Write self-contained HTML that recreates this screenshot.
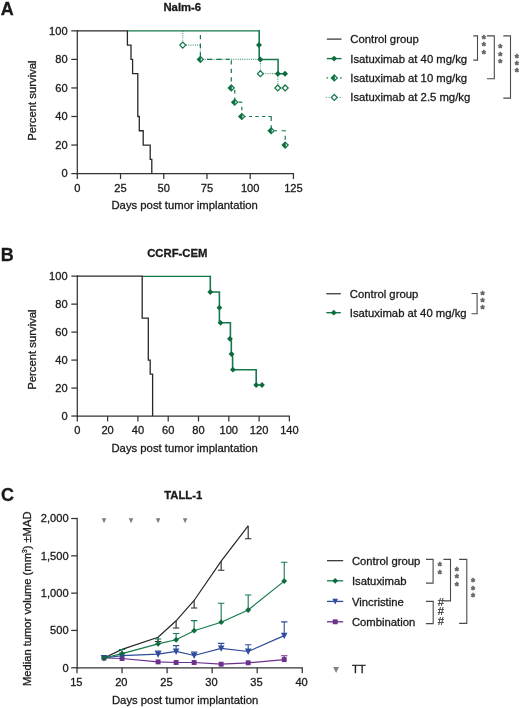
<!DOCTYPE html>
<html lang="en">
<head>
<meta charset="utf-8">
<title>Figure</title>
<style>
html,body{margin:0;padding:0;background:#fff;}
body{width:520px;height:708px;overflow:hidden;}
svg{display:block;font-family:"Liberation Sans",Arial,Helvetica,sans-serif;}
</style>
</head>
<body>
<svg width="520" height="708" viewBox="0 0 520 708">
<rect width="520" height="708" fill="#fff"/>
<text x="0.8" y="14.8" font-size="18" text-anchor="start" font-weight="bold" fill="#1a1a1a" stroke="#1a1a1a" stroke-width="0.3" >A</text>
<text x="182.3" y="10.7" font-size="11.3" text-anchor="middle" font-weight="bold" fill="#1c1a1b" stroke="#1c1a1b" stroke-width="0.3" >Nalm-6</text>
<line x1="77.30" y1="30.05" x2="77.30" y2="174.15" stroke="#333333" stroke-width="1.25" />
<line x1="76.75" y1="173.60" x2="293.98" y2="173.60" stroke="#333333" stroke-width="1.25" />
<line x1="77.30" y1="173.60" x2="77.30" y2="179.00" stroke="#333333" stroke-width="1.25" />
<text x="77.3" y="191.5" font-size="11.1" text-anchor="middle" font-weight="normal" fill="#1c1a1b" stroke="#1c1a1b" stroke-width="0.3" >0</text>
<line x1="120.53" y1="173.60" x2="120.53" y2="179.00" stroke="#333333" stroke-width="1.25" />
<text x="120.525" y="191.5" font-size="11.1" text-anchor="middle" font-weight="normal" fill="#1c1a1b" stroke="#1c1a1b" stroke-width="0.3" >25</text>
<line x1="163.75" y1="173.60" x2="163.75" y2="179.00" stroke="#333333" stroke-width="1.25" />
<text x="163.75" y="191.5" font-size="11.1" text-anchor="middle" font-weight="normal" fill="#1c1a1b" stroke="#1c1a1b" stroke-width="0.3" >50</text>
<line x1="206.98" y1="173.60" x2="206.98" y2="179.00" stroke="#333333" stroke-width="1.25" />
<text x="206.97500000000002" y="191.5" font-size="11.1" text-anchor="middle" font-weight="normal" fill="#1c1a1b" stroke="#1c1a1b" stroke-width="0.3" >75</text>
<line x1="250.20" y1="173.60" x2="250.20" y2="179.00" stroke="#333333" stroke-width="1.25" />
<text x="250.2" y="191.5" font-size="11.1" text-anchor="middle" font-weight="normal" fill="#1c1a1b" stroke="#1c1a1b" stroke-width="0.3" >100</text>
<line x1="293.43" y1="173.60" x2="293.43" y2="179.00" stroke="#333333" stroke-width="1.25" />
<text x="293.425" y="191.5" font-size="11.1" text-anchor="middle" font-weight="normal" fill="#1c1a1b" stroke="#1c1a1b" stroke-width="0.3" >125</text>
<line x1="71.30" y1="173.60" x2="77.30" y2="173.60" stroke="#333333" stroke-width="1.25" />
<text x="67.6" y="177.4" font-size="11.1" text-anchor="end" font-weight="normal" fill="#1c1a1b" stroke="#1c1a1b" stroke-width="0.3" >0</text>
<line x1="71.30" y1="145.05" x2="77.30" y2="145.05" stroke="#333333" stroke-width="1.25" />
<text x="67.6" y="148.85" font-size="11.1" text-anchor="end" font-weight="normal" fill="#1c1a1b" stroke="#1c1a1b" stroke-width="0.3" >20</text>
<line x1="71.30" y1="116.50" x2="77.30" y2="116.50" stroke="#333333" stroke-width="1.25" />
<text x="67.6" y="120.3" font-size="11.1" text-anchor="end" font-weight="normal" fill="#1c1a1b" stroke="#1c1a1b" stroke-width="0.3" >40</text>
<line x1="71.30" y1="87.95" x2="77.30" y2="87.95" stroke="#333333" stroke-width="1.25" />
<text x="67.6" y="91.74999999999999" font-size="11.1" text-anchor="end" font-weight="normal" fill="#1c1a1b" stroke="#1c1a1b" stroke-width="0.3" >60</text>
<line x1="71.30" y1="59.40" x2="77.30" y2="59.40" stroke="#333333" stroke-width="1.25" />
<text x="67.6" y="63.19999999999999" font-size="11.1" text-anchor="end" font-weight="normal" fill="#1c1a1b" stroke="#1c1a1b" stroke-width="0.3" >80</text>
<line x1="71.30" y1="30.85" x2="77.30" y2="30.85" stroke="#333333" stroke-width="1.25" />
<text x="67.6" y="34.64999999999999" font-size="11.1" text-anchor="end" font-weight="normal" fill="#1c1a1b" stroke="#1c1a1b" stroke-width="0.3" >100</text>
<text transform="translate(36.4 100.6) rotate(-90)" font-size="11.3" text-anchor="middle" fill="#1c1a1b" stroke="#1c1a1b" stroke-width="0.3" >Percent survival</text>
<text x="184.6" y="209.3" font-size="11.3" text-anchor="middle" font-weight="normal" fill="#1c1a1b" stroke="#1c1a1b" stroke-width="0.3" >Days post tumor implantation</text>
<path d="M182.8 30.85V45.12H200.4V59.40H260.4V73.67H277.9V87.95H285.2" fill="none" stroke="#157a4b" stroke-width="1.1" stroke-dasharray="0.9 1.3" opacity="0.8"/>
<path d="M200.40 35.00V39.30M200.40 43.60V48.00M200.40 52.20V56.50M207.00 59.40H212.20M216.50 59.40H221.70M226.00 59.40H229.50M231.30 60.20V64.50M231.30 68.70V73.00M231.30 77.20V81.50M231.30 85.70V88.00M234.70 90.00V93.40M234.70 97.50V102.00M238.50 102.22H241.80M241.80 102.20V103.00M241.80 106.80V110.20M241.80 114.00V116.50M242.50 116.50H245.70M249.00 116.50H252.00M255.30 116.50H258.60M262.00 116.50H265.30M268.40 116.50H271.80M271.20 116.50V121.00M271.20 125.20V130.80M274.00 130.77H277.00M281.50 130.77H285.80M285.20 130.80V131.50M285.20 135.70V139.80M285.20 143.00V145.00" fill="none" stroke="#157a4b" stroke-width="1.2" />
<path d="M127.4 30.85H259.9" fill="none" stroke="#157a4b" stroke-width="1.05" />
<path d="M259.2 30.35V59.40H278.1V73.67H285" fill="none" stroke="#157a4b" stroke-width="1.55" />
<path d="M77.30 30.85L127.40 30.85L127.40 45.12L131.00 45.12L131.00 59.40L132.60 59.40L132.60 73.67L137.80 73.67L137.80 116.50L139.30 116.50L139.30 130.77L143.20 130.77L143.20 145.05L150.20 145.05L150.20 159.32L151.80 159.32L151.80 173.60" fill="none" stroke="#282828" stroke-width="1.3" />
<path d="M182.80 42.17L185.75 45.12L182.80 48.08L179.85 45.12Z" fill="#fff" stroke="#157a4b" stroke-width="1.25"/>
<path d="M260.40 70.72L263.35 73.67L260.40 76.62L257.45 73.67Z" fill="#fff" stroke="#157a4b" stroke-width="1.25"/>
<path d="M277.80 85.00L280.75 87.95L277.80 90.90L274.85 87.95Z" fill="#fff" stroke="#157a4b" stroke-width="1.25"/>
<path d="M285.20 85.00L288.15 87.95L285.20 90.90L282.25 87.95Z" fill="#fff" stroke="#157a4b" stroke-width="1.25"/>
<path d="M200.40 56.45L203.35 59.40L200.40 62.35L197.45 59.40Z" fill="#fff" stroke="#157a4b" stroke-width="1.25"/>
<path d="M200.40 56.45L200.75 56.80L200.75 62.00L200.40 62.35L197.45 59.40Z" fill="#0d6b3e" stroke="#157a4b" stroke-width="0.6"/>
<path d="M231.30 85.00L234.25 87.95L231.30 90.90L228.35 87.95Z" fill="#fff" stroke="#157a4b" stroke-width="1.25"/>
<path d="M231.30 85.00L231.65 85.35L231.65 90.55L231.30 90.90L228.35 87.95Z" fill="#0d6b3e" stroke="#157a4b" stroke-width="0.6"/>
<path d="M234.70 99.27L237.65 102.22L234.70 105.17L231.75 102.22Z" fill="#fff" stroke="#157a4b" stroke-width="1.25"/>
<path d="M234.70 99.27L235.05 99.62L235.05 104.83L234.70 105.17L231.75 102.22Z" fill="#0d6b3e" stroke="#157a4b" stroke-width="0.6"/>
<path d="M241.80 113.55L244.75 116.50L241.80 119.45L238.85 116.50Z" fill="#fff" stroke="#157a4b" stroke-width="1.25"/>
<path d="M241.80 113.55L242.15 113.90L242.15 119.10L241.80 119.45L238.85 116.50Z" fill="#0d6b3e" stroke="#157a4b" stroke-width="0.6"/>
<path d="M271.20 127.82L274.15 130.77L271.20 133.72L268.25 130.77Z" fill="#fff" stroke="#157a4b" stroke-width="1.25"/>
<path d="M271.20 127.82L271.55 128.17L271.55 133.37L271.20 133.72L268.25 130.77Z" fill="#0d6b3e" stroke="#157a4b" stroke-width="0.6"/>
<path d="M285.20 142.10L288.15 145.05L285.20 148.00L282.25 145.05Z" fill="#fff" stroke="#157a4b" stroke-width="1.25"/>
<path d="M285.20 142.10L285.55 142.45L285.55 147.65L285.20 148.00L282.25 145.05Z" fill="#0d6b3e" stroke="#157a4b" stroke-width="0.6"/>
<path d="M259.00 42.12L262.00 45.12L259.00 48.12L256.00 45.12Z" fill="#0d6b3e" stroke="#0d6b3e" stroke-width="0"/>
<path d="M260.30 56.40L263.30 59.40L260.30 62.40L257.30 59.40Z" fill="#0d6b3e" stroke="#0d6b3e" stroke-width="0"/>
<path d="M277.90 70.67L280.90 73.67L277.90 76.67L274.90 73.67Z" fill="#0d6b3e" stroke="#0d6b3e" stroke-width="0"/>
<path d="M285.00 70.67L288.00 73.67L285.00 76.67L282.00 73.67Z" fill="#0d6b3e" stroke="#0d6b3e" stroke-width="0"/>
<line x1="326.80" y1="39.10" x2="341.50" y2="39.10" stroke="#2b2b2b" stroke-width="1.2" />
<line x1="326.80" y1="58.60" x2="341.50" y2="58.60" stroke="#157a4b" stroke-width="1.4" />
<path d="M334.10 55.70L337.00 58.60L334.10 61.50L331.20 58.60Z" fill="#0d6b3e" stroke="#0d6b3e" stroke-width="0"/>
<line x1="326.60" y1="77.90" x2="342.00" y2="77.90" stroke="#157a4b" stroke-width="1.2" stroke-dasharray="1.6 11.9"/>
<path d="M334.30 74.95L337.25 77.90L334.30 80.85L331.35 77.90Z" fill="#fff" stroke="#157a4b" stroke-width="1.25"/>
<path d="M334.30 74.95L334.65 75.30L334.65 80.50L334.30 80.85L331.35 77.90Z" fill="#0d6b3e" stroke="#157a4b" stroke-width="0.6"/>
<line x1="325.70" y1="97.40" x2="342.80" y2="97.40" stroke="#157a4b" stroke-width="1.0" stroke-dasharray="1.1 1.7" opacity="0.75"/>
<path d="M334.30 94.45L337.25 97.40L334.30 100.35L331.35 97.40Z" fill="#fff" stroke="#157a4b" stroke-width="1.25"/>
<text x="350.3" y="43.15" font-size="11.3" text-anchor="start" font-weight="normal" fill="#1c1a1b" stroke="#1c1a1b" stroke-width="0.3" >Control group</text>
<text x="350.3" y="62.65" font-size="11.3" text-anchor="start" font-weight="normal" fill="#1c1a1b" stroke="#1c1a1b" stroke-width="0.3" >Isatuximab at 40 mg/kg</text>
<text x="350.3" y="81.95" font-size="11.3" text-anchor="start" font-weight="normal" fill="#1c1a1b" stroke="#1c1a1b" stroke-width="0.3" >Isatuximab at 10 mg/kg</text>
<text x="350.3" y="101.45" font-size="11.3" text-anchor="start" font-weight="normal" fill="#1c1a1b" stroke="#1c1a1b" stroke-width="0.3" >Isatuximab at 2.5 mg/kg</text>
<path d="M473.30 35.90H477.50V60.10H473.30" fill="none" stroke="#4a4a4a" stroke-width="1.1" />
<text x="483.7" y="42.88" font-size="10.5" font-weight="bold" text-anchor="middle" fill="#626262" stroke="#626262" stroke-width="0.5" stroke-linejoin="round">*</text>
<text x="483.7" y="50.18" font-size="10.5" font-weight="bold" text-anchor="middle" fill="#626262" stroke="#626262" stroke-width="0.5" stroke-linejoin="round">*</text>
<text x="483.7" y="57.58" font-size="10.5" font-weight="bold" text-anchor="middle" fill="#626262" stroke="#626262" stroke-width="0.5" stroke-linejoin="round">*</text>
<path d="M486.90 35.90H494.30V78.70H486.90" fill="none" stroke="#4a4a4a" stroke-width="1.1" />
<text x="500.4" y="52.38" font-size="10.5" font-weight="bold" text-anchor="middle" fill="#626262" stroke="#626262" stroke-width="0.5" stroke-linejoin="round">*</text>
<text x="500.4" y="59.68" font-size="10.5" font-weight="bold" text-anchor="middle" fill="#626262" stroke="#626262" stroke-width="0.5" stroke-linejoin="round">*</text>
<text x="500.4" y="66.88" font-size="10.5" font-weight="bold" text-anchor="middle" fill="#626262" stroke="#626262" stroke-width="0.5" stroke-linejoin="round">*</text>
<path d="M503.30 35.90H510.50V98.10H503.30" fill="none" stroke="#4a4a4a" stroke-width="1.1" />
<text x="516.9" y="61.98" font-size="10.5" font-weight="bold" text-anchor="middle" fill="#626262" stroke="#626262" stroke-width="0.5" stroke-linejoin="round">*</text>
<text x="516.9" y="69.18" font-size="10.5" font-weight="bold" text-anchor="middle" fill="#626262" stroke="#626262" stroke-width="0.5" stroke-linejoin="round">*</text>
<text x="516.9" y="76.28" font-size="10.5" font-weight="bold" text-anchor="middle" fill="#626262" stroke="#626262" stroke-width="0.5" stroke-linejoin="round">*</text>
<text x="0.8" y="261.4" font-size="18" text-anchor="start" font-weight="bold" fill="#1a1a1a" stroke="#1a1a1a" stroke-width="0.3" >B</text>
<text x="177.3" y="256.7" font-size="11.3" text-anchor="middle" font-weight="bold" fill="#1c1a1b" stroke="#1c1a1b" stroke-width="0.3" >CCRF-CEM</text>
<line x1="77.30" y1="275.35" x2="77.30" y2="416.60" stroke="#333333" stroke-width="1.25" />
<line x1="76.75" y1="416.05" x2="289.95" y2="416.05" stroke="#333333" stroke-width="1.25" />
<line x1="77.30" y1="416.05" x2="77.30" y2="421.45" stroke="#333333" stroke-width="1.25" />
<text x="77.3" y="433.95" font-size="11.1" text-anchor="middle" font-weight="normal" fill="#1c1a1b" stroke="#1c1a1b" stroke-width="0.3" >0</text>
<line x1="107.60" y1="416.05" x2="107.60" y2="421.45" stroke="#333333" stroke-width="1.25" />
<text x="107.6" y="433.95" font-size="11.1" text-anchor="middle" font-weight="normal" fill="#1c1a1b" stroke="#1c1a1b" stroke-width="0.3" >20</text>
<line x1="137.90" y1="416.05" x2="137.90" y2="421.45" stroke="#333333" stroke-width="1.25" />
<text x="137.89999999999998" y="433.95" font-size="11.1" text-anchor="middle" font-weight="normal" fill="#1c1a1b" stroke="#1c1a1b" stroke-width="0.3" >40</text>
<line x1="168.20" y1="416.05" x2="168.20" y2="421.45" stroke="#333333" stroke-width="1.25" />
<text x="168.2" y="433.95" font-size="11.1" text-anchor="middle" font-weight="normal" fill="#1c1a1b" stroke="#1c1a1b" stroke-width="0.3" >60</text>
<line x1="198.50" y1="416.05" x2="198.50" y2="421.45" stroke="#333333" stroke-width="1.25" />
<text x="198.5" y="433.95" font-size="11.1" text-anchor="middle" font-weight="normal" fill="#1c1a1b" stroke="#1c1a1b" stroke-width="0.3" >80</text>
<line x1="228.80" y1="416.05" x2="228.80" y2="421.45" stroke="#333333" stroke-width="1.25" />
<text x="228.8" y="433.95" font-size="11.1" text-anchor="middle" font-weight="normal" fill="#1c1a1b" stroke="#1c1a1b" stroke-width="0.3" >100</text>
<line x1="259.10" y1="416.05" x2="259.10" y2="421.45" stroke="#333333" stroke-width="1.25" />
<text x="259.09999999999997" y="433.95" font-size="11.1" text-anchor="middle" font-weight="normal" fill="#1c1a1b" stroke="#1c1a1b" stroke-width="0.3" >120</text>
<line x1="289.40" y1="416.05" x2="289.40" y2="421.45" stroke="#333333" stroke-width="1.25" />
<text x="289.4" y="433.95" font-size="11.1" text-anchor="middle" font-weight="normal" fill="#1c1a1b" stroke="#1c1a1b" stroke-width="0.3" >140</text>
<line x1="71.30" y1="416.05" x2="77.30" y2="416.05" stroke="#333333" stroke-width="1.25" />
<text x="67.6" y="419.85" font-size="11.1" text-anchor="end" font-weight="normal" fill="#1c1a1b" stroke="#1c1a1b" stroke-width="0.3" >0</text>
<line x1="71.30" y1="388.07" x2="77.30" y2="388.07" stroke="#333333" stroke-width="1.25" />
<text x="67.6" y="391.87" font-size="11.1" text-anchor="end" font-weight="normal" fill="#1c1a1b" stroke="#1c1a1b" stroke-width="0.3" >20</text>
<line x1="71.30" y1="360.09" x2="77.30" y2="360.09" stroke="#333333" stroke-width="1.25" />
<text x="67.6" y="363.89000000000004" font-size="11.1" text-anchor="end" font-weight="normal" fill="#1c1a1b" stroke="#1c1a1b" stroke-width="0.3" >40</text>
<line x1="71.30" y1="332.11" x2="77.30" y2="332.11" stroke="#333333" stroke-width="1.25" />
<text x="67.6" y="335.91" font-size="11.1" text-anchor="end" font-weight="normal" fill="#1c1a1b" stroke="#1c1a1b" stroke-width="0.3" >60</text>
<line x1="71.30" y1="304.13" x2="77.30" y2="304.13" stroke="#333333" stroke-width="1.25" />
<text x="67.6" y="307.93" font-size="11.1" text-anchor="end" font-weight="normal" fill="#1c1a1b" stroke="#1c1a1b" stroke-width="0.3" >80</text>
<line x1="71.30" y1="276.15" x2="77.30" y2="276.15" stroke="#333333" stroke-width="1.25" />
<text x="67.6" y="279.95" font-size="11.1" text-anchor="end" font-weight="normal" fill="#1c1a1b" stroke="#1c1a1b" stroke-width="0.3" >100</text>
<text transform="translate(36.4 349.6) rotate(-90)" font-size="11.3" text-anchor="middle" fill="#1c1a1b" stroke="#1c1a1b" stroke-width="0.3" >Percent survival</text>
<text x="184.6" y="451.7" font-size="11.3" text-anchor="middle" font-weight="normal" fill="#1c1a1b" stroke="#1c1a1b" stroke-width="0.3" >Days post tumor implantation</text>
<path d="M142.2 276.35H211" fill="none" stroke="#157a4b" stroke-width="1.1" />
<path d="M210.3 275.85V292H219.4V322.8H230.4V338.8H231.3V354H232.6V369.7H256.2V385H262" fill="none" stroke="#157a4b" stroke-width="1.6" />
<path d="M77.30 276.15H142.2V318.12H148.3V360.09H150.2V374.08H152.6V416.05" fill="none" stroke="#282828" stroke-width="1.3" />
<path d="M210.30 289.10L213.20 292.00L210.30 294.90L207.40 292.00Z" fill="#0d6b3e" stroke="#0d6b3e" stroke-width="0"/>
<path d="M219.40 304.80L222.30 307.70L219.40 310.60L216.50 307.70Z" fill="#0d6b3e" stroke="#0d6b3e" stroke-width="0"/>
<path d="M220.60 319.90L223.50 322.80L220.60 325.70L217.70 322.80Z" fill="#0d6b3e" stroke="#0d6b3e" stroke-width="0"/>
<path d="M229.90 335.90L232.80 338.80L229.90 341.70L227.00 338.80Z" fill="#0d6b3e" stroke="#0d6b3e" stroke-width="0"/>
<path d="M231.50 351.10L234.40 354.00L231.50 356.90L228.60 354.00Z" fill="#0d6b3e" stroke="#0d6b3e" stroke-width="0"/>
<path d="M232.90 366.80L235.80 369.70L232.90 372.60L230.00 369.70Z" fill="#0d6b3e" stroke="#0d6b3e" stroke-width="0"/>
<path d="M256.20 382.10L259.10 385.00L256.20 387.90L253.30 385.00Z" fill="#0d6b3e" stroke="#0d6b3e" stroke-width="0"/>
<path d="M262.00 382.10L264.90 385.00L262.00 387.90L259.10 385.00Z" fill="#0d6b3e" stroke="#0d6b3e" stroke-width="0"/>
<line x1="326.30" y1="293.75" x2="340.80" y2="293.75" stroke="#2b2b2b" stroke-width="1.2" />
<line x1="326.30" y1="312.70" x2="340.80" y2="312.70" stroke="#157a4b" stroke-width="1.4" />
<path d="M333.80 309.80L336.70 312.70L333.80 315.60L330.90 312.70Z" fill="#0d6b3e" stroke="#0d6b3e" stroke-width="0"/>
<text x="349.8" y="297.8" font-size="11.3" text-anchor="start" font-weight="normal" fill="#1c1a1b" stroke="#1c1a1b" stroke-width="0.3" >Control group</text>
<text x="349.8" y="316.75" font-size="11.3" text-anchor="start" font-weight="normal" fill="#1c1a1b" stroke="#1c1a1b" stroke-width="0.3" >Isatuximab at 40 mg/kg</text>
<path d="M471.50 293.50H477.10V313.70H471.50" fill="none" stroke="#4a4a4a" stroke-width="1.1" />
<text x="482.6" y="298.88" font-size="10.5" font-weight="bold" text-anchor="middle" fill="#626262" stroke="#626262" stroke-width="0.5" stroke-linejoin="round">*</text>
<text x="482.6" y="305.98" font-size="10.5" font-weight="bold" text-anchor="middle" fill="#626262" stroke="#626262" stroke-width="0.5" stroke-linejoin="round">*</text>
<text x="482.6" y="313.18" font-size="10.5" font-weight="bold" text-anchor="middle" fill="#626262" stroke="#626262" stroke-width="0.5" stroke-linejoin="round">*</text>
<text x="0.9" y="500.6" font-size="18" text-anchor="start" font-weight="bold" fill="#1a1a1a" stroke="#1a1a1a" stroke-width="0.3" >C</text>
<text x="183.3" y="498.8" font-size="11.3" text-anchor="middle" font-weight="bold" fill="#1c1a1b" stroke="#1c1a1b" stroke-width="0.3" >TALL-1</text>
<line x1="77.20" y1="517.71" x2="77.20" y2="668.30" stroke="#333333" stroke-width="1.25" />
<line x1="76.65" y1="667.75" x2="302.80" y2="667.75" stroke="#333333" stroke-width="1.25" />
<line x1="77.00" y1="667.75" x2="77.00" y2="673.15" stroke="#333333" stroke-width="1.25" />
<text x="76.3" y="685.65" font-size="11.1" text-anchor="middle" font-weight="normal" fill="#1c1a1b" stroke="#1c1a1b" stroke-width="0.3" >15</text>
<line x1="122.05" y1="667.75" x2="122.05" y2="673.15" stroke="#333333" stroke-width="1.25" />
<text x="121.35" y="685.65" font-size="11.1" text-anchor="middle" font-weight="normal" fill="#1c1a1b" stroke="#1c1a1b" stroke-width="0.3" >20</text>
<line x1="167.10" y1="667.75" x2="167.10" y2="673.15" stroke="#333333" stroke-width="1.25" />
<text x="166.4" y="685.65" font-size="11.1" text-anchor="middle" font-weight="normal" fill="#1c1a1b" stroke="#1c1a1b" stroke-width="0.3" >25</text>
<line x1="212.15" y1="667.75" x2="212.15" y2="673.15" stroke="#333333" stroke-width="1.25" />
<text x="211.45000000000002" y="685.65" font-size="11.1" text-anchor="middle" font-weight="normal" fill="#1c1a1b" stroke="#1c1a1b" stroke-width="0.3" >30</text>
<line x1="257.20" y1="667.75" x2="257.20" y2="673.15" stroke="#333333" stroke-width="1.25" />
<text x="256.5" y="685.65" font-size="11.1" text-anchor="middle" font-weight="normal" fill="#1c1a1b" stroke="#1c1a1b" stroke-width="0.3" >35</text>
<line x1="302.25" y1="667.75" x2="302.25" y2="673.15" stroke="#333333" stroke-width="1.25" />
<text x="301.55" y="685.65" font-size="11.1" text-anchor="middle" font-weight="normal" fill="#1c1a1b" stroke="#1c1a1b" stroke-width="0.3" >40</text>
<line x1="71.20" y1="667.75" x2="77.20" y2="667.75" stroke="#333333" stroke-width="1.25" />
<text x="68.6" y="671.55" font-size="11.1" text-anchor="end" font-weight="normal" fill="#1c1a1b" stroke="#1c1a1b" stroke-width="0.3" >0</text>
<line x1="71.20" y1="630.44" x2="77.20" y2="630.44" stroke="#333333" stroke-width="1.25" />
<text x="68.6" y="634.24" font-size="11.1" text-anchor="end" font-weight="normal" fill="#1c1a1b" stroke="#1c1a1b" stroke-width="0.3" >500</text>
<line x1="71.20" y1="593.13" x2="77.20" y2="593.13" stroke="#333333" stroke-width="1.25" />
<text x="68.6" y="596.93" font-size="11.1" text-anchor="end" font-weight="normal" fill="#1c1a1b" stroke="#1c1a1b" stroke-width="0.3" >1,000</text>
<line x1="71.20" y1="555.82" x2="77.20" y2="555.82" stroke="#333333" stroke-width="1.25" />
<text x="68.6" y="559.6199999999999" font-size="11.1" text-anchor="end" font-weight="normal" fill="#1c1a1b" stroke="#1c1a1b" stroke-width="0.3" >1,500</text>
<line x1="71.20" y1="518.51" x2="77.20" y2="518.51" stroke="#333333" stroke-width="1.25" />
<text x="68.6" y="522.31" font-size="11.1" text-anchor="end" font-weight="normal" fill="#1c1a1b" stroke="#1c1a1b" stroke-width="0.3" >2,000</text>
<text transform="translate(30.8 598.8) rotate(-90)" font-size="11.2" text-anchor="middle" fill="#1c1a1b" stroke="#1c1a1b" stroke-width="0.3" >Median tumor volume (mm<tspan font-size="6.6" dy="-3.8">3</tspan><tspan dy="3.8">) ±MAD</tspan></text>
<text x="185.1" y="704.0" font-size="11.3" text-anchor="middle" font-weight="normal" fill="#1c1a1b" stroke="#1c1a1b" stroke-width="0.3" >Days post tumor implantation</text>
<path d="M101.78 518.29L106.28 518.29L104.03 523.20Z" fill="#7d7d7d"/>
<path d="M128.81 518.29L133.31 518.29L131.06 523.20Z" fill="#7d7d7d"/>
<path d="M155.84 518.29L160.34 518.29L158.09 523.20Z" fill="#7d7d7d"/>
<path d="M182.87 518.29L187.37 518.29L185.12 523.20Z" fill="#7d7d7d"/>
<path d="M158.09 637.20V641.50M154.89 641.50H161.29" fill="none" stroke="#262626" stroke-width="1.1" />
<path d="M176.11 620.80V628.00M172.91 628.00H179.31" fill="none" stroke="#262626" stroke-width="1.1" />
<path d="M194.13 600.50V608.00M190.93 608.00H197.33" fill="none" stroke="#262626" stroke-width="1.1" />
<path d="M221.16 561.20V570.30M217.96 570.30H224.36" fill="none" stroke="#262626" stroke-width="1.1" />
<path d="M248.19 525.80V538.80M244.99 538.80H251.39" fill="none" stroke="#262626" stroke-width="1.1" />
<path d="M104.03 658.00L122.05 649.40L158.09 637.20L176.11 620.80L194.13 600.50L221.16 561.20L248.19 525.80" fill="none" stroke="#262626" stroke-width="1.2" />
<path d="M284.23 659.60V655.80M281.03 655.80H287.43" fill="none" stroke="#6b2f8c" stroke-width="1.1" />
<path d="M104.03 658.00L122.05 658.50L158.09 661.90L176.11 662.50L194.13 662.50L221.16 664.20L248.19 662.80L284.23 659.60" fill="none" stroke="#6b2f8c" stroke-width="1.2" />
<rect x="101.58" y="655.55" width="4.90" height="4.90" fill="#6b2f8c"/>
<rect x="119.60" y="656.05" width="4.90" height="4.90" fill="#6b2f8c"/>
<rect x="155.64" y="659.45" width="4.90" height="4.90" fill="#6b2f8c"/>
<rect x="173.66" y="660.05" width="4.90" height="4.90" fill="#6b2f8c"/>
<rect x="191.68" y="660.05" width="4.90" height="4.90" fill="#6b2f8c"/>
<rect x="218.71" y="661.75" width="4.90" height="4.90" fill="#6b2f8c"/>
<rect x="245.74" y="660.35" width="4.90" height="4.90" fill="#6b2f8c"/>
<rect x="281.78" y="657.15" width="4.90" height="4.90" fill="#6b2f8c"/>
<path d="M158.09 654.20V651.00M154.89 651.00H161.29" fill="none" stroke="#2f4c9c" stroke-width="1.1" />
<path d="M176.11 651.40V645.60M172.91 645.60H179.31" fill="none" stroke="#2f4c9c" stroke-width="1.1" />
<path d="M194.13 655.50V652.00M190.93 652.00H197.33" fill="none" stroke="#2f4c9c" stroke-width="1.1" />
<path d="M221.16 648.30V643.40M217.96 643.40H224.36" fill="none" stroke="#2f4c9c" stroke-width="1.1" />
<path d="M248.19 651.50V644.80M244.99 644.80H251.39" fill="none" stroke="#2f4c9c" stroke-width="1.1" />
<path d="M284.23 635.60V621.90M281.03 621.90H287.43" fill="none" stroke="#2f4c9c" stroke-width="1.1" />
<path d="M104.03 658.00L122.05 655.60L158.09 654.20L176.11 651.40L194.13 655.50L221.16 648.30L248.19 651.50L284.23 635.60" fill="none" stroke="#2f4c9c" stroke-width="1.2" />
<path d="M100.73 655.12L107.33 655.12L104.03 661.52Z" fill="#2f4c9c"/>
<path d="M118.75 652.72L125.35 652.72L122.05 659.12Z" fill="#2f4c9c"/>
<path d="M154.79 651.32L161.39 651.32L158.09 657.72Z" fill="#2f4c9c"/>
<path d="M172.81 648.52L179.41 648.52L176.11 654.92Z" fill="#2f4c9c"/>
<path d="M190.83 652.62L197.43 652.62L194.13 659.02Z" fill="#2f4c9c"/>
<path d="M217.86 645.42L224.46 645.42L221.16 651.82Z" fill="#2f4c9c"/>
<path d="M244.89 648.62L251.49 648.62L248.19 655.02Z" fill="#2f4c9c"/>
<path d="M280.93 632.72L287.53 632.72L284.23 639.12Z" fill="#2f4c9c"/>
<path d="M122.05 653.60V649.50M118.85 649.50H125.25" fill="none" stroke="#157a4b" stroke-width="1.1" />
<path d="M158.09 643.80V639.00M154.89 639.00H161.29" fill="none" stroke="#157a4b" stroke-width="1.1" />
<path d="M176.11 639.80V633.50M172.91 633.50H179.31" fill="none" stroke="#157a4b" stroke-width="1.1" />
<path d="M194.13 630.70V620.60M190.93 620.60H197.33" fill="none" stroke="#157a4b" stroke-width="1.1" />
<path d="M221.16 622.20V603.30M217.96 603.30H224.36" fill="none" stroke="#157a4b" stroke-width="1.1" />
<path d="M248.19 610.00V595.00M244.99 595.00H251.39" fill="none" stroke="#157a4b" stroke-width="1.1" />
<path d="M284.23 581.10V562.20M281.03 562.20H287.43" fill="none" stroke="#157a4b" stroke-width="1.1" />
<path d="M104.03 658.00L122.05 653.60L158.09 643.80L176.11 639.80L194.13 630.70L221.16 622.20L248.19 610.00L284.23 581.10" fill="none" stroke="#157a4b" stroke-width="1.2" />
<path d="M104.03 655.10L106.93 658.00L104.03 660.90L101.13 658.00Z" fill="#0d6b3e" stroke="#0d6b3e" stroke-width="0"/>
<path d="M122.05 650.70L124.95 653.60L122.05 656.50L119.15 653.60Z" fill="#0d6b3e" stroke="#0d6b3e" stroke-width="0"/>
<path d="M158.09 640.90L160.99 643.80L158.09 646.70L155.19 643.80Z" fill="#0d6b3e" stroke="#0d6b3e" stroke-width="0"/>
<path d="M176.11 636.90L179.01 639.80L176.11 642.70L173.21 639.80Z" fill="#0d6b3e" stroke="#0d6b3e" stroke-width="0"/>
<path d="M194.13 627.80L197.03 630.70L194.13 633.60L191.23 630.70Z" fill="#0d6b3e" stroke="#0d6b3e" stroke-width="0"/>
<path d="M221.16 619.30L224.06 622.20L221.16 625.10L218.26 622.20Z" fill="#0d6b3e" stroke="#0d6b3e" stroke-width="0"/>
<path d="M248.19 607.10L251.09 610.00L248.19 612.90L245.29 610.00Z" fill="#0d6b3e" stroke="#0d6b3e" stroke-width="0"/>
<path d="M284.23 578.20L287.13 581.10L284.23 584.00L281.33 581.10Z" fill="#0d6b3e" stroke="#0d6b3e" stroke-width="0"/>
<line x1="327.00" y1="560.70" x2="343.20" y2="560.70" stroke="#2b2b2b" stroke-width="1.2" />
<line x1="327.00" y1="580.80" x2="343.20" y2="580.80" stroke="#157a4b" stroke-width="1.3" />
<path d="M335.20 577.90L338.10 580.80L335.20 583.70L332.30 580.80Z" fill="#0d6b3e" stroke="#0d6b3e" stroke-width="0"/>
<line x1="327.00" y1="601.40" x2="343.20" y2="601.40" stroke="#2f4c9c" stroke-width="1.3" />
<path d="M332.40 598.83L338.00 598.83L335.20 604.53Z" fill="#2f4c9c"/>
<line x1="327.00" y1="621.80" x2="343.20" y2="621.80" stroke="#6b2f8c" stroke-width="1.3" />
<rect x="332.75" y="619.35" width="4.90" height="4.90" fill="#6b2f8c"/>
<text x="351.9" y="564.8000000000001" font-size="11.3" text-anchor="start" font-weight="normal" fill="#1c1a1b" stroke="#1c1a1b" stroke-width="0.3" >Control group</text>
<text x="351.9" y="584.9" font-size="11.3" text-anchor="start" font-weight="normal" fill="#1c1a1b" stroke="#1c1a1b" stroke-width="0.3" >Isatuximab</text>
<text x="351.9" y="605.5" font-size="11.3" text-anchor="start" font-weight="normal" fill="#1c1a1b" stroke="#1c1a1b" stroke-width="0.3" >Vincristine</text>
<text x="351.9" y="625.9" font-size="11.3" text-anchor="start" font-weight="normal" fill="#1c1a1b" stroke="#1c1a1b" stroke-width="0.3" >Combination</text>
<path d="M333.20 666.90L339.00 666.90L336.10 672.90Z" fill="#828282"/>
<text x="351.9" y="673.4" font-size="11.3" text-anchor="start" font-weight="normal" fill="#1c1a1b" stroke="#1c1a1b" stroke-width="0.3" >TT</text>
<path d="M426.00 559.40H433.10V583.10H426.00" fill="none" stroke="#4a4a4a" stroke-width="1.1" />
<text x="439.8" y="570.08" font-size="10.5" font-weight="bold" text-anchor="middle" fill="#626262" stroke="#626262" stroke-width="0.5" stroke-linejoin="round">*</text>
<text x="439.8" y="577.78" font-size="10.5" font-weight="bold" text-anchor="middle" fill="#626262" stroke="#626262" stroke-width="0.5" stroke-linejoin="round">*</text>
<path d="M443.40 559.40H450.50V600.90H443.40" fill="none" stroke="#4a4a4a" stroke-width="1.1" />
<text x="456.7" y="574.88" font-size="10.5" font-weight="bold" text-anchor="middle" fill="#626262" stroke="#626262" stroke-width="0.5" stroke-linejoin="round">*</text>
<text x="456.7" y="582.48" font-size="10.5" font-weight="bold" text-anchor="middle" fill="#626262" stroke="#626262" stroke-width="0.5" stroke-linejoin="round">*</text>
<text x="456.7" y="590.28" font-size="10.5" font-weight="bold" text-anchor="middle" fill="#626262" stroke="#626262" stroke-width="0.5" stroke-linejoin="round">*</text>
<path d="M459.10 559.40H466.80V623.40H459.10" fill="none" stroke="#4a4a4a" stroke-width="1.1" />
<text x="473.1" y="586.28" font-size="10.5" font-weight="bold" text-anchor="middle" fill="#626262" stroke="#626262" stroke-width="0.5" stroke-linejoin="round">*</text>
<text x="473.1" y="593.88" font-size="10.5" font-weight="bold" text-anchor="middle" fill="#626262" stroke="#626262" stroke-width="0.5" stroke-linejoin="round">*</text>
<text x="473.1" y="601.28" font-size="10.5" font-weight="bold" text-anchor="middle" fill="#626262" stroke="#626262" stroke-width="0.5" stroke-linejoin="round">*</text>
<path d="M425.90 601.40H433.20V623.60H425.90" fill="none" stroke="#4a4a4a" stroke-width="1.1" />
<text x="440.9" y="605.86" font-size="11.3" text-anchor="middle" fill="#2b2b2b" stroke="#2b2b2b" stroke-width="0.2">#</text>
<text x="440.9" y="615.46" font-size="11.3" text-anchor="middle" fill="#2b2b2b" stroke="#2b2b2b" stroke-width="0.2">#</text>
<text x="440.9" y="625.11" font-size="11.3" text-anchor="middle" fill="#2b2b2b" stroke="#2b2b2b" stroke-width="0.2">#</text>
</svg>
</body>
</html>
